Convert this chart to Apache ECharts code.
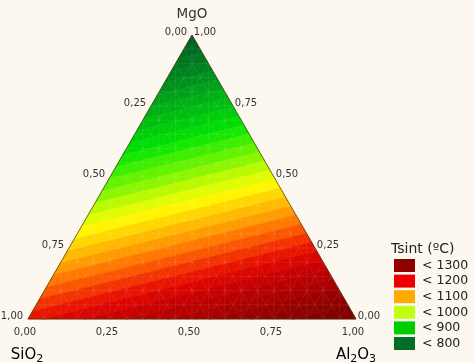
<!DOCTYPE html>
<html><head><meta charset="utf-8">
<script src="https://cdn.jsdelivr.net/npm/echarts@6/dist/echarts.min.js"></script>
<style>html,body{margin:0;padding:0;background:#FCF8EF}#c{width:474px;height:363px}</style>
</head><body><div id="c"></div>
<script>
// Isotherm (band edge) temperatures, °C
const isoTemp = [550,575,600,625,650,675,700,725,750,775,800,825,850,875,900,925,950,975,1000,1025,1050,1075,1100,1125,1150,1175,1200,1225,1250,1275];
// Where each isotherm meets the SiO2–MgO edge (or the SiO2–Al2O3 base): [SiO2, Al2O3, MgO]
const isoStart = [
 [0.042,0,0.958],[0.084,0,0.916],[0.127,0,0.873],[0.169,0,0.831],[0.211,0,0.789],
 [0.253,0,0.747],[0.296,0,0.704],[0.338,0,0.662],[0.380,0,0.620],[0.423,0,0.577],
 [0.465,0,0.535],[0.507,0,0.493],[0.550,0,0.450],[0.592,0,0.408],[0.634,0,0.366],
 [0.676,0,0.324],[0.719,0,0.281],[0.761,0,0.239],[0.803,0,0.197],[0.846,0,0.154],
 [0.888,0,0.112],[0.930,0,0.070],[0.973,0,0.027],[0.955,0.045,0],[0.828,0.172,0],
 [0.701,0.299,0],[0.574,0.426,0],[0.447,0.553,0],[0.320,0.680,0],[0.193,0.807,0]
];
// Where each isotherm meets the Al2O3–MgO edge: [SiO2, Al2O3, MgO]
const isoEnd = [
 [0,0.032,0.968],[0,0.063,0.937],[0,0.095,0.905],[0,0.127,0.873],[0,0.158,0.842],
 [0,0.190,0.810],[0,0.222,0.778],[0,0.254,0.746],[0,0.285,0.715],[0,0.317,0.683],
 [0,0.349,0.651],[0,0.381,0.619],[0,0.412,0.588],[0,0.444,0.556],[0,0.476,0.524],
 [0,0.508,0.492],[0,0.539,0.461],[0,0.571,0.429],[0,0.603,0.397],[0,0.634,0.366],
 [0,0.666,0.334],[0,0.698,0.302],[0,0.730,0.270],[0,0.761,0.239],[0,0.793,0.207],
 [0,0.825,0.175],[0,0.857,0.143],[0,0.888,0.112],[0,0.920,0.080],[0,0.952,0.048]
];
const tickValues = [0,0.25,0.5,0.75,1];
const tickLabels = ['0,00','0,25','0,50','0,75','1,00'];
const legendNames = ['< 1300','< 1200','< 1100','< 1000','< 900','< 800'];

// styles
const bandColors = [
 'rgb(0,95,35)','rgb(0,105,35)','rgb(0,118,32)','rgb(0,130,30)','rgb(0,145,28)','rgb(0,160,25)',
 'rgb(0,175,20)','rgb(0,190,15)','rgb(0,205,10)','rgb(0,220,5)','rgb(20,232,0)','rgb(60,238,0)',
 'rgb(100,242,0)','rgb(140,246,0)','rgb(185,250,0)','rgb(225,252,0)','rgb(255,245,0)','rgb(255,215,0)',
 'rgb(255,185,0)','rgb(255,155,0)','rgb(255,120,0)','rgb(250,85,0)','rgb(242,50,0)','rgb(232,20,0)',
 'rgb(218,5,0)','rgb(200,0,0)','rgb(185,0,0)','rgb(170,0,0)','rgb(155,0,0)','rgb(143,0,0)','rgb(130,0,0)'
];
const legendColors = ['#8E0000','#EE0000','#FFAA00','#BEFF14','#00CC00','#006E28'];
const FONT = 'DejaVu Sans';

const toXY = c => [c[1] + c[2] / 2, c[2]];
const TRI = [[0,0],[1,0],[0.5,1]];
const APEX = [0.5,1];
function side(A, B, p) { return (B[0]-A[0])*(p[1]-A[1]) - (B[1]-A[1])*(p[0]-A[0]); }
function clip(poly, A, B, keep) {
  const out = [];
  for (let i = 0; i < poly.length; i++) {
    const p = poly[i], q = poly[(i+1) % poly.length];
    const fp = side(A,B,p)*keep, fq = side(A,B,q)*keep;
    if (fp >= 0) out.push(p);
    if ((fp >= 0) !== (fq >= 0)) {
      const t = fp / (fp - fq);
      out.push([p[0] + t*(q[0]-p[0]), p[1] + t*(q[1]-p[1])]);
    }
  }
  return out;
}
function bandPoly(i) {
  let poly = TRI.slice();
  if (i > 0) {
    const A = toXY(isoStart[i-1]), B = toXY(isoEnd[i-1]);
    poly = clip(poly, A, B, -Math.sign(side(A,B,APEX)));
  }
  if (i < isoTemp.length) {
    const A = toXY(isoStart[i]), B = toXY(isoEnd[i]);
    poly = clip(poly, A, B, Math.sign(side(A,B,APEX)));
  }
  return poly;
}

// faint mesh lines (ternary grid + vertical lines)
const mesh = [];
for (let k = 1; k < 20; k++) {
  const v = k / 20;
  mesh.push([toXY([1-v,0,v]), toXY([0,1-v,v])]);
  mesh.push([toXY([1-v,v,0]), toXY([0,v,1-v])]);
  mesh.push([toXY([v,1-v,0]), toXY([v,0,1-v])]);
  mesh.push([[v,0],[v, v <= 0.5 ? 2*v : 2*(1-v)]]);
}

const chart = echarts.init(document.getElementById('c'), null, {renderer: 'canvas'});
const series = [
  {
    type: 'custom', coordinateSystem: 'cartesian2d', silent: true,
    data: bandColors.map((c, i) => [i]),
    renderItem(params, api) {
      const i = params.dataIndex;
      const pts = bandPoly(i).map(p => api.coord(p));
      return {type: 'polygon', shape: {points: pts}, style: {fill: bandColors[i], stroke: bandColors[i], lineWidth: 0.6}};
    }
  },
  {
    type: 'custom', coordinateSystem: 'cartesian2d', silent: true, z: 3,
    data: mesh.map((m, i) => [i]),
    renderItem(params, api) {
      const m = mesh[params.dataIndex];
      const a = api.coord(m[0]), b = api.coord(m[1]);
      return {type: 'line', shape: {x1: a[0], y1: a[1], x2: b[0], y2: b[1]},
        style: {stroke: 'rgba(255,255,255,0.08)', lineWidth: 1}};
    }
  },
  {
    type: 'custom', coordinateSystem: 'cartesian2d', silent: true, z: 4,
    data: [[0]],
    renderItem(params, api) {
      return {type: 'polygon', shape: {points: TRI.map(p => api.coord(p))},
        style: {fill: 'none', stroke: 'rgba(70,60,20,0.75)', lineWidth: 1}};
    }
  },
  {
    type: 'custom', coordinateSystem: 'cartesian2d', silent: true, z: 5,
    data: tickValues.map((v, i) => [i]),
    renderItem(params, api) {
      const i = params.dataIndex, v = tickValues[i], t = tickLabels[i];
      const st = {fontFamily: FONT, fontSize: 10, fill: '#333', align: 'center', verticalAlign: 'middle'};
      const b = api.coord(toXY([1-v, v, 0]));
      const l = api.coord(toXY([v, 0, 1-v]));
      const r = api.coord(toXY([0, 1-v, v]));
      return {type: 'group', children: [
        {type: 'text', x: b[0] - 3, y: b[1] + 13, style: Object.assign({text: t}, st)},
        {type: 'text', x: l[0] - 16, y: l[1] - 3, style: Object.assign({text: t}, st)},
        {type: 'text', x: r[0] + 13, y: r[1] - 3, style: Object.assign({text: t}, st)}
      ]};
    }
  },
  {
    type: 'custom', coordinateSystem: 'cartesian2d', silent: true, z: 5,
    data: [[0]],
    renderItem(params, api) {
      const top = api.coord([0.5, 1]), bl = api.coord([0, 0]), br = api.coord([1, 0]);
      const rich = {
        a: {fontFamily: FONT, fontSize: 15, color: '#333'},
        s: {fontFamily: FONT, fontSize: 11, color: '#333', padding: [8, 0, 0, 0]}
      };
      return {type: 'group', children: [
        {type: 'text', x: top[0], y: top[1] - 21, style: {text: 'MgO', fontFamily: FONT, fontSize: 13.5, fill: '#333', align: 'center', verticalAlign: 'middle'}},
        {type: 'text', x: bl[0] - 1, y: bl[1] + 36, style: {text: '{a|SiO}{s|2}', rich, align: 'center', verticalAlign: 'middle'}},
        {type: 'text', x: br[0], y: br[1] + 36, style: {text: '{a|Al}{s|2}{a|O}{s|3}', rich, align: 'center', verticalAlign: 'middle'}}
      ]};
    }
  }
];
legendNames.forEach((n, i) => series.push({type: 'scatter', name: n, data: [], itemStyle: {color: legendColors[i], opacity: 1}}));

chart.setOption({
  backgroundColor: '#FCF8EF',
  animation: false,
  grid: {left: 28, top: 35, width: 328, height: 284},
  xAxis: {type: 'value', min: 0, max: 1, show: false},
  yAxis: {type: 'value', min: 0, max: 1, show: false},
  title: {text: 'Tsint (ºC)', left: 391, top: 242, padding: 0, textStyle: {fontFamily: FONT, fontSize: 14, fontWeight: 'normal', color: '#222'}},
  legend: {
    orient: 'vertical', left: 394, top: 259, padding: 0, itemWidth: 21, itemHeight: 13, itemGap: 2.6,
    icon: 'rect', selectedMode: false,
    itemStyle: {opacity: 1},
    textStyle: {fontFamily: FONT, fontSize: 12.5, color: '#222', lineHeight: 13, padding: [0, 0, 0, 2]},
    data: legendNames
  },
  series
});
</script></body></html>
